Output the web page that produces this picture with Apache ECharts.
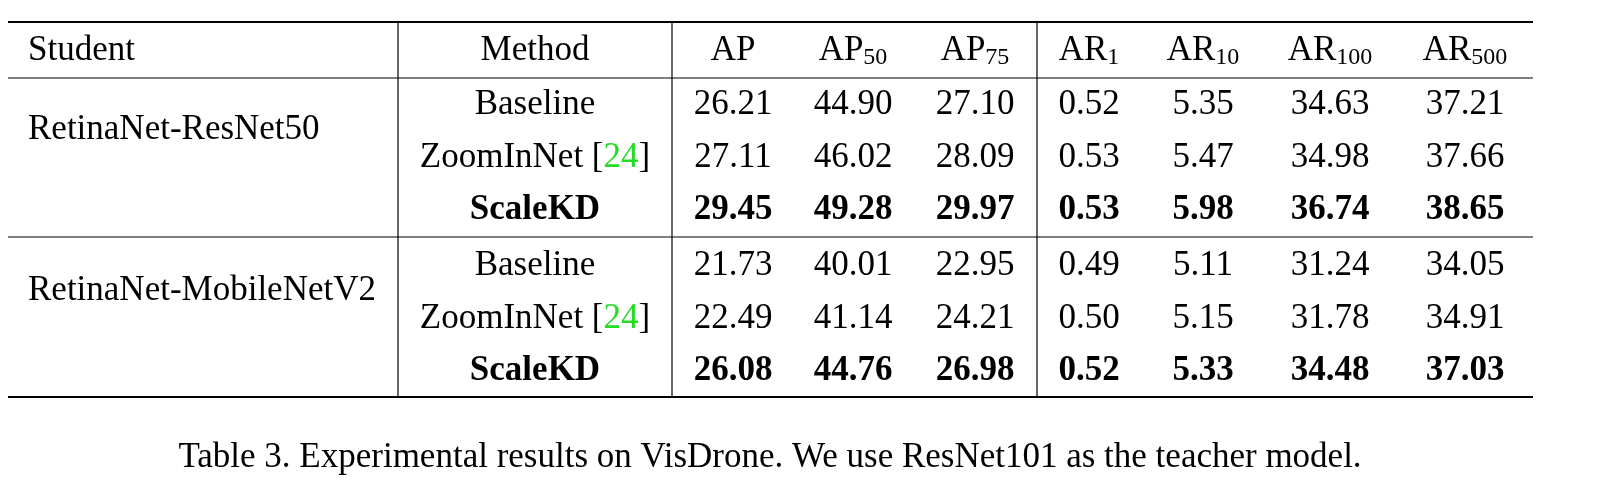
<!DOCTYPE html>
<html><head><meta charset="utf-8">
<script src="https://cdn.jsdelivr.net/npm/echarts@6/dist/echarts.min.js"></script>
<style>html,body{margin:0;background:#fff}#c{width:1611px;height:493px}</style>
</head><body><div id="c"></div>
<script>
var headers = [['AP', ''], ['AP', '50'], ['AP', '75'], ['AR', '1'], ['AR', '10'], ['AR', '100'], ['AR', '500']];
var students = ['RetinaNet-ResNet50', 'RetinaNet-MobileNetV2'];
var methods = ['Baseline', 'ZoomInNet', 'ScaleKD'];
var values = [
  [[26.21, 44.90, 27.10, 0.52, 5.35, 34.63, 37.21],
   [27.11, 46.02, 28.09, 0.53, 5.47, 34.98, 37.66],
   [29.45, 49.28, 29.97, 0.53, 5.98, 36.74, 38.65]],
  [[21.73, 40.01, 22.95, 0.49, 5.11, 31.24, 34.05],
   [22.49, 41.14, 24.21, 0.50, 5.15, 31.78, 34.91],
   [26.08, 44.76, 26.98, 0.52, 5.33, 34.48, 37.03]]
];
var caption = 'Table 3. Experimental results on VisDrone. We use ResNet101 as the teacher model.';

var colX = [733, 853, 975, 1089, 1203, 1330, 1465];
var rowY = [[105, 158, 210], [266, 319, 371]];
var font = '"Liberation Serif", "DejaVu Serif", serif';
var fs = 35;
var els = [];

function txt(x, y, text, opt) {
  opt = opt || {};
  els.push({
    type: 'text', x: x, y: y,
    style: {
      text: text, font: (opt.bold ? 'bold ' : '') + fs + 'px ' + font,
      fill: '#000', align: opt.align || 'center', verticalAlign: 'middle',
      rich: opt.rich
    }
  });
}
function line(x1, y1, x2, y2, w) {
  els.push({ type: 'line', shape: { x1: x1, y1: y1, x2: x2, y2: y2 }, style: { stroke: '#000', lineWidth: w } });
}
var rich = {
  m: { font: fs + 'px ' + font, fill: '#000' },
  s: { font: '24px ' + font, fill: '#000', padding: [14, 0, 0, 0] },
  g: { font: fs + 'px ' + font, fill: '#22dd22' }
};

txt(28, 51, 'Student', { align: 'left' });
txt(535, 51, 'Method');
headers.forEach(function (h, i) {
  txt(colX[i], 51, h[1] ? '{m|' + h[0] + '}{s|' + h[1] + '}' : h[0], { rich: rich });
});

students.forEach(function (s, g) {
  txt(28, (rowY[g][0] + rowY[g][1]) / 2 - 2, s, { align: 'left' });
  methods.forEach(function (m, r) {
    var bold = m === 'ScaleKD';
    var y = rowY[g][r];
    if (m === 'ZoomInNet') txt(535, y, '{m|ZoomInNet [}{g|24}{m|]}', { rich: rich });
    else txt(535, y, m, { bold: bold });
    values[g][r].forEach(function (v, i) {
      txt(colX[i], y, v.toFixed(2), { bold: bold });
    });
  });
});

line(8, 22, 1533, 22, 2);
line(8, 78, 1533, 78, 1.2);
line(8, 237, 1533, 237, 1.2);
line(8, 397, 1533, 397, 2);
[398, 672, 1037].forEach(function (x) { line(x, 22, x, 397, 1.2); });

txt(770, 458, caption);

var chart = echarts.init(document.getElementById('c'));
chart.setOption({ animation: false, graphic: { elements: els } });
</script></body></html>
